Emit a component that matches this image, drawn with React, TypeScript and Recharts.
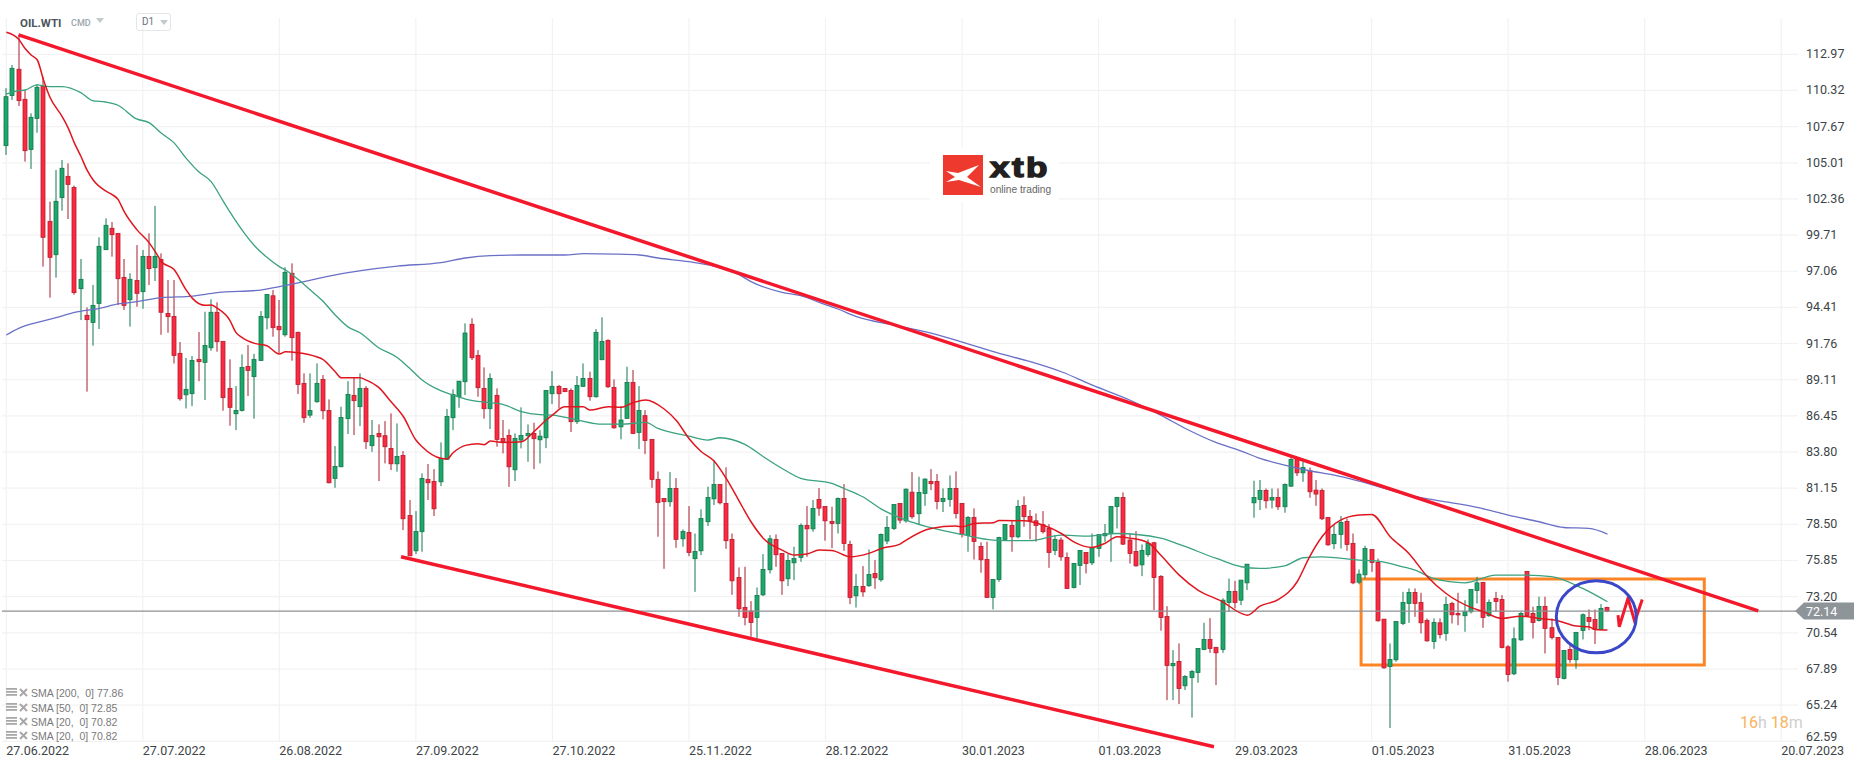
import React from 'react';
import {
  ComposedChart, Bar, Line, XAxis, YAxis, CartesianGrid,
  ReferenceLine, ReferenceArea, ReferenceDot, Label,
} from 'recharts';

const priceTicks = [112.97, 110.32, 107.67, 105.01, 102.36, 99.71, 97.06, 94.41, 91.76, 89.11, 86.45, 83.8, 81.15, 78.5, 75.85, 73.2, 70.54, 67.89, 65.24, 62.59];
const dateLabels = ['27.06.2022', '27.07.2022', '26.08.2022', '27.09.2022', '27.10.2022', '25.11.2022', '28.12.2022', '30.01.2023', '01.03.2023', '29.03.2023', '01.05.2023', '31.05.2023', '28.06.2023', '20.07.2023'];
const dateTicks = [0, 22, 44, 66, 88, 110, 132, 154, 176, 198, 220, 242, 264, 286];
const lastPrice = 72.14;

// open, high, low, close per session
const ohlc: number[][] = [
  [106.27,110.48,105.59,109.86],[109.94,112.19,109.62,111.94],[111.87,114.39,109.18,109.57],[109.67,110.35,105.1,105.9],[105.98,108.64,104.56,108.35],
  [108.27,110.79,107.22,110.55],[110.6,111.33,97.4,99.55],[100.72,102.16,95.12,98.08],[98.27,104.49,96.59,102.19],[102.46,105.22,101.5,104.61],
  [104.02,104.97,100.89,103.43],[103.21,103.34,95.34,95.49],[95.78,97.96,93.48,96.47],[93.83,94.41,88.23,93.51],[93.31,96.05,91.6,94.56],
  [94.7,99.55,92.82,98.89],[98.64,100.94,98.62,100.43],[100.21,100.67,98.13,99.74],[99.84,99.84,94.58,96.51],[96.61,97.96,94.22,94.56],
  [94.97,96.91,93,96.47],[96.39,98.98,94.46,95.44],[95.56,98.62,94.31,98.15],[98.15,99.84,96.05,97.25],[97.32,101.85,96.34,98.15],
  [97.93,98.37,92.4,94.05],[93.97,96.42,92.55,93.73],[93.75,96.42,90.3,90.89],[91.04,91.87,87.57,87.71],[88,90.7,87,88.4],
  [88.08,90.84,87.17,90.52],[90.6,92.6,89,90.43],[90.38,94.09,87.62,91.62],[91.45,95,91.23,94.05],[94.05,94.78,91.16,91.89],
  [91.92,91.92,86.83,87.79],[88.47,90.6,85.73,87.08],[86.61,88.64,85.41,86.85],[86.85,90.96,86.78,90.01],[90.08,91.65,87.91,89.79],
  [89.33,91,86.25,90.6],[90.52,94.14,90.5,93.75],[93.65,95.36,92.8,95.36],[95.26,95.68,92.26,92.92],[93.02,94.95,91.04,92.77],
  [92.4,97.35,92.26,96.98],[96.91,97.64,90.5,92.19],[92.58,92.63,88.06,88.76],[88.84,89.57,85.95,86.32],[86.51,89.57,86.32,86.85],
  [87.49,90.3,87.42,88.84],[89.13,89.45,86.2,86.83],[86.85,87.66,81.5,81.55],[81.87,84.24,81.18,82.75],[82.72,87.13,82.72,86.34],
  [86.25,89,85.12,88.03],[87.96,89.25,85.05,87.57],[87.13,89.57,85.71,88.47],[88.47,88.64,84.02,84.56],[84.27,86.15,83.82,85.02],
  [85.17,85.83,81.67,84.92],[85,86.07,82.97,84.19],[84.07,86.64,82.48,82.94],[82.94,85.9,82.36,83.48],[83.55,83.87,78.08,78.91],
  [79.15,80.28,76.19,76.19],[76.56,79.47,76.32,77.98],[77.96,82.24,76.49,81.87],[81.8,82.92,80.28,81.55],[81.65,82.55,79.11,79.64],
  [81.62,84.51,81.3,83.34],[83.27,86.96,83.27,86.41],[86.32,88.4,85.41,88.03],[87.86,89,87.05,89],[88.96,93.24,87.98,92.53],
  [93.17,93.61,90.55,90.72],[90.89,91.28,87.86,88.52],[88.47,90.01,86.25,86.98],[86.98,89.57,85.49,89.2],[87.96,88.47,84.19,84.73],
  [84.8,86.15,83.7,84.56],[85.02,85.47,81.25,82.72],[82.5,85.17,81.67,84.8],[84.68,87.08,84.07,85.02],[85,85.83,83.09,85.17],
  [85.17,85.95,82.55,84.78],[84.7,85.41,82.97,84.97],[84.85,88.32,84.09,88.32],[88.08,89.74,87.32,88.62],[88.62,88.71,87,88.08],
  [88.47,88.47,88.23,88.23],[88.32,88.47,85.27,86.03],[86.03,89.38,85.86,88.69],[88.62,90.3,88.59,89.2],[89.2,89.69,87.57,87.86],
  [87.86,92.82,87.79,92.58],[90.57,93.68,90.55,91.92],[91.99,92.07,88.49,88.59],[88.54,89.13,85.51,85.58],[85.65,87.17,84.73,86.15],
  [86.27,90.06,86.27,88.91],[88.91,89.82,85.12,85.17],[85.24,88.64,84.02,86.85],[86.47,86.88,83.65,84.65],[84.73,84.73,81.18,81.8],
  [81.8,82.38,77.59,80.11],[80.4,80.4,75.24,80.16],[80.16,82.33,79.79,81.13],[81.13,81.89,76.78,77.4],[77.44,78.13,76.86,77.98],
  [77.91,79.84,76.17,76.44],[75.98,77.83,73.55,76.51],[76.56,79.6,76.24,78.93],[78.69,81.26,78.37,80.47],[80.37,83.21,79.91,81.43],
  [81.43,81.43,79.96,80.08],[80.03,82.68,76.7,77.3],[77.4,77.83,73.33,74.36],[74.6,75.34,71.72,72.31],[72.41,75.39,71.09,71.67],
  [72.14,72.87,70.26,71.3],[71.67,73.87,70.13,73.28],[73.33,76.32,73.24,75.19],[75.17,77.71,74.9,77.44],[77.4,77.76,75.39,76.27],
  [76.37,76.37,73.33,74.36],[74.51,76.32,73.97,75.85],[75.68,76.86,74.41,75.99],[76.07,78.57,75.75,78.42],[78.42,79.84,76.12,78.17],
  [78.17,80.28,77.96,79.67],[80.33,81.16,79.13,79.69],[79.81,79.81,77.3,78.76],[78.71,79.79,76.76,78.57],[78.57,80.47,77.83,80.4],
  [80.4,81.45,76.56,77.1],[77.03,77.3,72.65,73.14],[73.26,74.86,72.4,73.94],[73.94,75.44,73.19,73.55],[74,76.66,73.92,74.83],
  [74.9,75.88,73.77,74.58],[74.44,77.83,74.29,77.76],[77.28,79.11,77.05,78.27],[78.2,79.96,78.08,79.96],[80.03,80.03,78.57,78.81],
  [78.76,81.13,78.62,81.08],[80.86,82.33,78.91,79.06],[79.28,81.99,78.52,80.84],[80.77,81.87,79.86,81.82],[81.65,82.55,81.01,81.48],
  [81.65,82.19,79.6,80.18],[80.18,81.13,79.4,80.4],[80.33,82.09,79.79,81.13],[81.13,82.38,78.93,79.3],[80.03,80.03,77.54,77.76],
  [77.69,79.11,76.49,79],[79,79.67,75.92,77.25],[76.88,77.18,74.95,75.9],[75.92,77.23,73.14,73.14],[73.14,74.46,72.26,74.46],
  [74.46,77.59,74.29,77.54],[77.4,78.5,77.35,78.5],[78.42,78.81,76.49,77.59],[77.59,80.28,77.47,79.81],[79.89,80.55,78.32,79.06],
  [79.08,79.55,77.4,78.76],[78.76,79.3,77.23,78.42],[78.47,79.47,77.83,77.96],[78.2,78.52,75.31,76.44],[76.59,77.71,76.24,77.4],
  [77.35,77.54,75.83,76.12],[76.07,76.44,73.77,73.8],[73.87,75.63,73.8,75.63],[75.49,76.59,74.05,76.59],[76.44,76.44,74.9,75.63],
  [75.68,77.83,75.51,76.81],[76.73,77.76,76.12,77.76],[77.66,78.52,77.22,77.83],[77.83,79.81,75.75,79.81],[79.81,80.52,78.2,80.47],
  [80.47,80.84,76.98,77.05],[77.35,77.83,75.63,76.37],[76.51,78,75.39,75.46],[75.53,77.03,74.7,76.59],[76.29,77.4,76.12,77.1],
  [77.15,77.22,72.21,74.6],[74.68,74.78,70.7,71.67],[71.74,72.5,65.61,68.15],[68.13,69.28,65.61,68.3],[68.45,69.77,65.32,66.47],
  [66.66,67.44,66.35,67.34],[67.27,67.81,64.33,67.71],[67.64,69.4,66.88,69.4],[69.32,71.28,69.27,70.06],[70.06,71.62,69.08,69.4],
  [69.47,69.52,66.71,69.08],[69.32,73.07,69.08,72.94],[72.77,74.53,72.09,73.58],[73.58,74.36,72.33,72.77],[72.94,74.41,72.57,74.41],
  [74.21,75.58,73.68,75.58],[80.08,81.7,78.99,80.47],[80.33,81.75,79.55,80.99],[80.99,81.13,79.67,80.23],[80.28,81.13,79.67,80.47],
  [80.47,81.13,79.55,79.79],[79.79,81.5,79.35,81.43],[81.3,83.41,81.25,83.26],[83.26,83.46,82.04,82.28],[82.28,83.09,81.62,82.67],
  [82.43,82.67,80.45,80.89],[81.01,81.75,79.86,80.72],[80.99,81.13,78.81,78.91],[79,79,76.93,77],[77.08,78.45,76.68,77.76],
  [77.76,79.11,76.73,78.64],[78.71,78.93,76.56,77.03],[77.1,77.83,74.11,74.21],[74.26,75.19,74.11,74.85],[74.8,76.93,74.53,76.73],
  [76.66,76.66,75.02,75.71],[75.71,75.99,71.36,71.43],[71.55,71.55,67.91,67.98],[68.08,69.77,63.56,68.59],[68.57,71.38,68.42,71.38],
  [71.23,73.55,71.11,72.77],[72.7,73.8,71.28,73.51],[73.51,73.8,71.72,72.7],[72.77,73.48,70.5,71.28],[71.45,71.6,69.89,69.96],
  [69.91,71.6,69.37,71.3],[71.28,71.6,70.13,70.43],[70.5,73.19,69.96,72.62],[72.7,72.82,71.23,71.87],[71.97,73.48,71.11,71.87],
  [71.8,72.94,70.62,72.09],[72.09,73.72,71.97,73.72],[73.65,74.65,72.7,74.21],[74.24,74.29,70.91,71.67],[71.8,72.99,71.72,72.77],
  [73.07,73.55,72.09,72.85],[72.99,73.31,69.4,69.47],[69.52,69.64,66.96,67.49],[67.54,70.94,67.44,70.11],[70.03,72.09,69.96,71.97],
  [75.05,75.05,71.72,71.8],[71.97,72.46,70.13,71.3],[71.45,73.19,71.38,72.48],[72.48,73.19,69.03,70.87],[70.92,71.6,70.06,70.21],
  [70.21,70.21,66.71,67.27],[67.2,69.28,67.13,69.25],[69.32,69.77,68.35,68.59],[68.57,70.62,67.91,70.57],[70.72,71.97,70.06,71.87],
  [71.67,72.26,70.74,71.38],[71.53,72.26,69.72,70.79],[70.79,72.65,70.74,72.33],[72.41,72.46,72.06,72.14],
];

// moving averages: [session, price]
const sma20: number[][] = [
  [0,114.58],[2,114.07],[3,113.41],[4,112.92],[5,112.55],[6,111.09],[7,109.86],[9,108.4],[10,107.54],[11,106.44],[12,105.51],[13,104.49],[14,103.75],[16,102.95],[17,102.7],[18,102.33],[19,101.43],[21,100.13],[23,99.16],[24,98.5],[25,97.76],[27,97.2],[29,95.68],[30,95.07],[32,94.56],[33,94.58],[34,94.34],[36,93.48],[37,92.58],[38,92.19],[40,91.77],[42,91.6],[44,90.99],[45,91.16],[47,91.09],[50,90.79],[51,90.6],[53,89.69],[54,89.25],[57,89.25],[58,89.08],[60,88.54],[62,87.49],[64,86.39],[66,84.68],[67,84.19],[70,83.34],[71,83.29],[72,83.75],[74,84.29],[76,84.41],[77,84.34],[78,84.61],[80,84.51],[83,84.56],[85,85.29],[87,86.15],[88,86.51],[90,87.12],[93,87.12],[94,86.88],[97,87.12],[99,87.08],[101,87.42],[103,87.62],[106,86.96],[108,86.1],[110,84.8],[112,83.82],[114,83.16],[116,81.87],[118,80.28],[120,78.69],[122,77.47],[125,76.61],[127,76.25],[129,76.32],[131,76.61],[133,76.59],[136,76.12],[139,76.37],[141,76.73],[144,77.05],[145,77.35],[149,78.2],[153,78.37],[154,78.32],[156,78.57],[159,78.62],[160,78.79],[164,78.76],[167,78.45],[170,77.83],[172,77.22],[175,76.81],[177,77.1],[179,77.59],[181,77.49],[184,77.15],[186,76.25],[189,74.78],[192,73.68],[196,72.82],[199,71.97],[200,71.84],[202,72.5],[205,72.99],[208,74.29],[210,76.12],[212,77.59],[215,78.81],[218,79.18],[220,79.23],[223,77.59],[226,76.37],[229,74.66],[232,73.43],[236,72.41],[238,72.09],[241,71.6],[244,71.77],[247,71.6],[250,71.43],[253,71.04],[255,70.99],[256,70.79],[258,70.75],
];
const sma50: number[][] = [
  [0,110.04],[2,110.31],[3,110.35],[5,110.72],[7,110.6],[9,110.6],[12,110.16],[14,109.55],[16,109.47],[18,109.23],[21,108.23],[23,107.96],[25,107.18],[27,106.49],[29,105.34],[31,104.36],[33,103.63],[35,102.16],[36,101.43],[38,100.08],[40,98.93],[42,98.08],[44,97.4],[45,97.15],[47,96.47],[49,95.68],[51,94.88],[53,93.85],[55,93],[57,92.55],[60,91.45],[63,90.74],[65,89.94],[67,89.08],[70,88.3],[72,87.98],[74,87.69],[78,87.42],[80,87.3],[83,86.76],[86,86.54],[88,86.51],[92,86.15],[96,85.85],[99,85.85],[103,85.98],[105,85.54],[110,84.97],[113,84.68],[115,84.85],[119,84.36],[122,83.46],[125,82.6],[128,81.87],[133,81.5],[135,81.13],[138,80.52],[141,79.62],[145,78.81],[148,78.37],[154,77.76],[159,77.35],[165,77.3],[170,77.71],[174,77.64],[179,77.83],[186,77.49],[189,77.03],[195,76],[199,75.39],[202,75.27],[206,75.46],[209,76.05],[212,76.12],[218,75.88],[221,75.8],[225,75.39],[227,75.14],[230,74.53],[235,74.21],[240,74.78],[245,74.78],[249,74.66],[254,73.8],[258,72.82],
];
const sma200: number[][] = [
  [0,92.38],[2,92.87],[5,93.31],[8,93.65],[11,94.05],[15,94.34],[18,94.66],[21,94.83],[25,95.12],[30,95.24],[34,95.49],[41,95.68],[44,95.93],[48,96.3],[52,96.71],[63,97.44],[70,97.69],[74,98.03],[78,98.2],[83,98.25],[90,98.25],[93,98.35],[98,98.32],[102,98.25],[105,98.03],[110,97.76],[114,97.44],[118,96.83],[120,96.3],[125,95.51],[128,95.27],[131,94.78],[134,94.29],[137,93.73],[143,93.11],[148,92.63],[153,92.01],[160,91.04],[165,90.43],[170,89.69],[175,88.71],[181,87.62],[186,86.51],[190,85.53],[195,84.49],[199,83.87],[202,83.34],[206,82.85],[210,82.43],[214,82.11],[218,81.67],[226,80.65],[232,80.15],[237,79.74],[242,79.18],[247,78.69],[251,78.27],[255,78.2],[258,77.79],
];
const scribble: number[][] = [[259.7,71.84],[259.9,70.99],[261.3,73.07],[262.4,71.36],[263.6,72.99]];

const upperTrend = [{ x: 1.98, y: 114.39 }, { x: 282.3, y: 72.16 }];
const lowerTrend = [{ x: 63.6, y: 76.12 }, { x: 194.6, y: 62.19 }];
const legendRows = ['SMA [200,  0] 77.86', 'SMA [50,  0] 72.85', 'SMA [20,  0] 70.82', 'SMA [20,  0] 70.82'];

const rows = ohlc.map(([open, high, low, close], i) => ({ i, open, high, low, close, range: [low, high] }));
const pts = (list: number[][]) => list.map(([i, v]) => ({ i, v }));

const Candle = (props: any) => {
  const { x, y, width, height, payload } = props;
  if (!payload || height == null) return null;
  const up = payload.close >= payload.open;
  const k = height / (payload.high - payload.low || 1);
  const top = y + (payload.high - Math.max(payload.open, payload.close)) * k;
  const bodyH = Math.max(Math.abs(payload.open - payload.close) * k, 1.5);
  const cx = Math.round(x + width / 2) ;
  return (
    <g>
      <line x1={cx} x2={cx} y1={y} y2={y + height} stroke={up ? '#12784c' : '#a91c2b'} strokeWidth={1} />
      <rect x={cx - 2} y={top} width={4} height={bodyH} fill={up ? '#1fa66b' : '#fb2a40'} stroke={up ? '#12784c' : '#b41d2d'} strokeWidth={0.8} />
    </g>
  );
};

const DateTick = ({ x, y, payload }: any) => {
  const idx = dateTicks.indexOf(payload.value);
  return (
    <text x={x} y={y + 5} fontFamily="Roboto" fontSize={12.5} fill="#3d4448">{dateLabels[idx]}</text>
  );
};

const PriceTick = ({ x, y, payload }: any) => (
  <text x={x} y={y + (payload.value === 62.59 ? 0 : 4)} fontFamily="Roboto" fontSize={12.5} fill="#3d4448">
    {payload.value.toFixed(2)}
  </text>
);

const PriceTag = ({ viewBox }: any) => {
  const right = viewBox.x + viewBox.width;
  const cy = viewBox.y;
  return (
    <g>
      <polygon points={`${right - 3},${cy} ${right + 6},${cy - 8.5} ${right + 56},${cy - 8.5} ${right + 56},${cy + 8.5} ${right + 6},${cy + 8.5}`} fill="#8e9599" />
      <text x={right + 8} y={cy + 4.5} fontFamily="Roboto" fontSize={12.5} fill="#ffffff">{lastPrice.toFixed(2)}</text>
    </g>
  );
};

const Ellipse = ({ cx, cy }: any) => (
  <ellipse cx={cx} cy={cy} rx={40} ry={36} fill="none" stroke="#3b47c9" strokeWidth={3} />
);

const LegendRow = ({ label }: { label: string }) => (
  <div style={{ display: 'flex', alignItems: 'center', height: 14.4 }}>
    <svg width={25} height={10}>
      <rect x={0} y={0} width={11} height={1.8} fill="#a8a8a8" />
      <rect x={0} y={3} width={11} height={1.8} fill="#a8a8a8" />
      <rect x={0} y={6} width={11} height={1.8} fill="#a8a8a8" />
      <path d="M14 1 L21 8 M21 1 L14 8" stroke="#a8a8a8" strokeWidth={2} />
    </svg>
    <span style={{ whiteSpace: 'pre', fontFamily: 'Liberation Sans', fontSize: 10.5, color: '#7a7a7a' }}>{label}</span>
  </div>
);

const abs = (left: number, top: number): React.CSSProperties => ({ position: 'absolute', left, top });

export default function App() {
  return (
    <div style={{ position: 'absolute', left: 0, top: 0, width: 1866, height: 767, background: '#fff', overflow: 'hidden' }}>
      <ComposedChart width={1866} height={767} data={rows} margin={{ top: 18, right: 0, bottom: 0, left: 2 }}>
        <CartesianGrid stroke="#f2f2f2" strokeWidth={1.2} horizontalValues={priceTicks} verticalValues={dateTicks} />
        <XAxis
          dataKey="i"
          type="number"
          domain={[-0.69, 288.7]}
          allowDataOverflow
          ticks={dateTicks}
          interval={0}
          axisLine={false}
          tickLine={false}
          height={25}
          tick={<DateTick />}
        />
        <YAxis
          orientation="right"
          type="number"
          domain={[62.54, 115.63]}
          allowDataOverflow
          ticks={priceTicks}
          interval={0}
          axisLine={false}
          tickLine={false}
          width={68}
          tick={<PriceTick />}
        />
        <ReferenceLine y={lastPrice} stroke="#8b9094" strokeWidth={1.3}>
          <Label content={<PriceTag />} />
        </ReferenceLine>
        <Bar dataKey="range" barSize={5} shape={<Candle />} isAnimationActive={false} />
        <Line data={pts(sma200)} dataKey="v" type="monotone" stroke="#6a70c6" strokeWidth={1.3} dot={false} activeDot={false} isAnimationActive={false} />
        <Line data={pts(sma50)} dataKey="v" type="monotone" stroke="#3aa27f" strokeWidth={1.3} dot={false} activeDot={false} isAnimationActive={false} />
        <Line data={pts(sma20)} dataKey="v" type="monotone" stroke="#e0161f" strokeWidth={1.5} dot={false} activeDot={false} isAnimationActive={false} />
        <ReferenceLine segment={upperTrend} stroke="#f4182c" strokeWidth={3.5} ifOverflow="visible" />
        <ReferenceLine segment={lowerTrend} stroke="#f4182c" strokeWidth={3.5} ifOverflow="visible" />
        <ReferenceArea x1={218.3} x2={273.6} y1={68.18} y2={74.49} fill="none" fillOpacity={0} stroke="#fb8526" strokeWidth={3} ifOverflow="visible" />
        <ReferenceDot x={256.2} y={71.72} r={40} shape={<Ellipse />} ifOverflow="visible" />
        <Line data={pts(scribble)} dataKey="v" type="linear" stroke="#f4182c" strokeWidth={3} dot={false} activeDot={false} isAnimationActive={false} />
      </ComposedChart>

      {/* instrument header */}
      <div style={{ ...abs(20, 16), fontFamily: 'Roboto', fontWeight: 700, fontSize: 11.5, color: '#4b5660' }}>OIL.WTI</div>
      <div style={{ ...abs(71, 18), fontFamily: 'Roboto', fontWeight: 500, fontSize: 9, color: '#9aa5ad' }}>CMD</div>
      <svg width={8} height={5} style={abs(96, 18)}><polygon points="0,0 8,0 4,5" fill="#c4c9cc" /></svg>
      <div style={{ ...abs(136, 13), width: 35, height: 18, boxSizing: 'border-box', border: '1px solid #e4e6e8', borderRadius: 3 }}>
        <span style={{ ...abs(5, 2), fontFamily: 'Roboto', fontSize: 10, color: '#6b747b' }}>D1</span>
        <svg width={8} height={5} style={abs(23, 6)}><polygon points="0,0 8,0 4,5" fill="#c4c9cc" /></svg>
      </div>

      {/* logo */}
      <div style={{ ...abs(930, 147), width: 129, height: 55, background: '#fff' }} />
      <svg width={40} height={40} style={abs(943, 155)}>
        <rect width={40} height={40} fill="#ee3a2e" />
        <polygon points="3,16 15,18 36,10 24,22 38,32 16,25 3,27 12,22" fill="#fff" />
      </svg>
      <div style={{ ...abs(990, 150), fontFamily: 'Liberation Sans', fontWeight: 700, fontSize: 28, lineHeight: '36px', letterSpacing: 2, color: '#231f20', WebkitTextStroke: '1.4px #231f20', transform: 'scaleX(1.25)', transformOrigin: 'left top' }}>xtb</div>
      <div style={{ ...abs(990, 184), fontFamily: 'Liberation Sans', fontSize: 10.2, lineHeight: '12px', color: '#666' }}>online trading</div>

      {/* indicator legend */}
      <div style={{ ...abs(6, 686) }}>
        {legendRows.map((label, i) => <LegendRow key={i} label={label} />)}
      </div>

      {/* candle countdown */}
      <div style={{ ...abs(1740, 713), fontFamily: 'Roboto', fontSize: 16, color: '#cfcfcf', whiteSpace: 'pre' }}>
        <span style={{ color: '#f9b35c' }}>16</span>h <span style={{ color: '#f9b35c' }}>18</span>m
      </div>
    </div>
  );
}
